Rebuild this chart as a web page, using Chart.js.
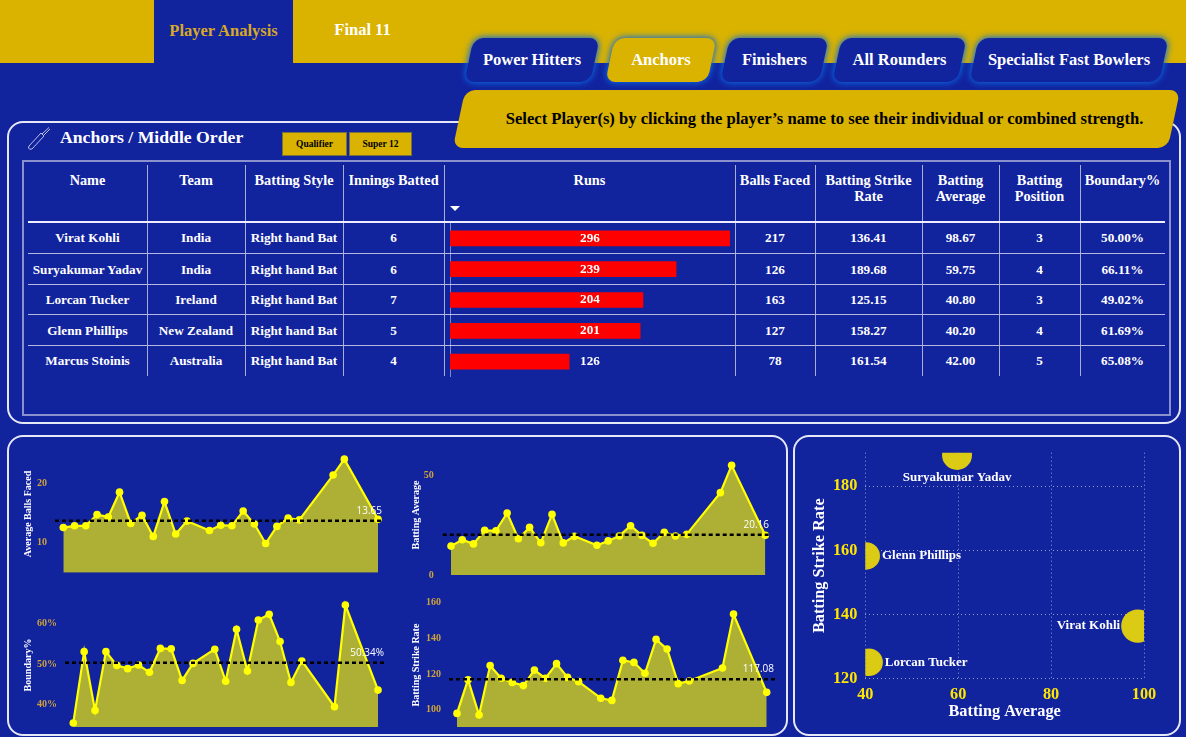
<!DOCTYPE html>
<html>
<head>
<meta charset="utf-8">
<title>Player Analysis</title>
<script src="https://cdn.jsdelivr.net/npm/chart.js@4"></script>
<style>
  html, body { margin: 0; padding: 0; }
  body { width: 1186px; height: 737px; position: relative; overflow: hidden; background: #12239e;
    font-family: "Liberation Serif", serif; font-weight: bold; color: #fff; }
  .abs { position: absolute; }
  .c { position: absolute; display: flex; align-items: center; justify-content: center; text-align: center; }
  .top-band { left: 0; top: 0; width: 1186px; height: 63px; background: #d9b300; }
  .page-tab { top: 0; height: 63px; font-size: 16.5px; box-sizing: border-box; padding-bottom: 2px; }
  .tab { top: 38px; height: 44px; font-size: 16.5px; z-index: 3; }
  .tab::before { content: ""; position: absolute; inset: 0; z-index: -1; background: #12239e; border-radius: 10px;
    transform: skewX(-12deg); box-shadow: 0 0 6px 1px #0a6be0; }
  .tab.on::before { background: #d9b300; }
  .banner { left: 459px; top: 90px; width: 715px; height: 58px; z-index: 2; color: #000; font-size: 16.6px; }
  .banner::before { content: ""; position: absolute; inset: 0; z-index: -1; background: #d9b300; border-radius: 10px; transform: skewX(-12deg); }
  .panel { border: 2px solid #e6e8f8; border-radius: 16px; box-sizing: border-box; }
  .filter { top: 132px; height: 24px; background: #d9b300; border: 1px solid #77703f; box-sizing: border-box; color: #000; font-size: 9.5px; }
  .vline { top: 165px; height: 211px; width: 1px; background: #a9add9; }
  .hline { left: 28px; width: 1137px; height: 1px; background: #b5b8e0; }
  .th { font-size: 14.3px; line-height: 16px; top: 172px; align-items: flex-start; }
  .td { font-size: 13.2px; height: 30px; }
  canvas { position: absolute; }
</style>
</head>
<body>
<div class="abs top-band"></div>
<div class="c page-tab" style="left:154px;width:139px;background:#12239e;color:#d6a928">Player Analysis</div>
<div class="c page-tab" style="left:293px;width:139px;color:#fff;padding-bottom:4px">Final 11</div>

<div class="abs panel" style="left:7px;top:121px;width:1174px;height:303px"></div>
<div class="abs" style="left:22px;top:160px;width:1149px;height:256px;border:2px solid #8b91cf;box-sizing:border-box"></div>
<div class="abs panel" style="left:7px;top:435px;width:781px;height:301px"></div>
<div class="abs panel" style="left:793px;top:435px;width:388px;height:301px"></div>

<div class="c tab" style="left:469px;width:126px">Power Hitters</div>
<div class="c tab on" style="left:610px;width:102px">Anchors</div>
<div class="c tab" style="left:725px;width:99px">Finishers</div>
<div class="c tab" style="left:837px;width:125px">All Rounders</div>
<div class="c tab" style="left:974px;width:190px">Specialist Fast Bowlers</div>
<div class="c banner"><span style="margin-left:16px">Select Player(s) by clicking the player’s name to see their individual or combined strength.</span></div>

<svg class="abs" style="left:26px;top:126px" width="26" height="26" viewBox="0 0 26 26" fill="none" stroke="#b9bfe8" stroke-width="1">
  <path d="M3 20 L15 7 L18 10 L6 23 Q3 24 2.5 22 Z"/><path d="M16 8 L23 1.5 M18 9 L24 3"/>
</svg>
<div class="abs" style="left:60px;top:127px;font-size:17.7px;line-height:20px">Anchors / Middle Order</div>
<div class="c filter" style="left:282px;width:65px">Qualifier</div>
<div class="c filter" style="left:349px;width:63px">Super 12</div>

<div id="table"></div>
<div class="abs" style="left:450px;top:206px;width:0;height:0;border-left:5px solid transparent;border-right:5px solid transparent;border-top:5px solid #fff"></div>

<canvas id="runsChart" style="left:444px;top:223px" width="291" height="154"></canvas>
<canvas id="ballsChart" style="left:22px;top:445px" width="368" height="135"></canvas>
<canvas id="avgChart" style="left:410px;top:445px" width="368" height="135"></canvas>
<canvas id="boundaryChart" style="left:22px;top:595px" width="368" height="138"></canvas>
<canvas id="srChart" style="left:410px;top:595px" width="372" height="138"></canvas>
<canvas id="scatterChart" style="left:810px;top:436px" width="364" height="295"></canvas>

<script>
// Table data
const headers = ["Name", "Team", "Batting Style", "Innings Batted", "Runs", "Balls Faced", "Batting Strike<br>Rate", "Batting<br>Average", "Batting<br>Position", "Boundary%"];
const names = ["Virat Kohli", "Suryakumar Yadav", "Lorcan Tucker", "Glenn Phillips", "Marcus Stoinis"];
const teams = ["India", "India", "Ireland", "New Zealand", "Australia"];
const styles = ["Right hand Bat", "Right hand Bat", "Right hand Bat", "Right hand Bat", "Right hand Bat"];
const innings = [6, 6, 7, 5, 4];
const runs = [296, 239, 204, 201, 126];
const ballsFaced = [217, 126, 163, 127, 78];
const strikeRates = [136.41, 189.68, 125.15, 158.27, 161.54];
const averages = [98.67, 59.75, 40.80, 40.20, 42.00];
const positions = [3, 4, 3, 4, 5];
const boundaryPct = ["50.00%", "66.11%", "49.02%", "61.69%", "65.08%"];

// Trend data, one point per match (some matches have no value)
const matchNo = [0, 1, 2, 3, 4, 5, 6, 7, 8, 9, 10, 11, 13, 14, 15, 16, 17, 18, 19, 20, 21, 24, 25, 28];
const trendBalls = [12.5, 12.8, 12.8, 14.7, 14.3, 18.5, 13.2, 14.6, 11.0, 16.9, 11.4, 13.6, 12.0, 12.9, 12.8, 15.3, 13.1, 9.8, 12.7, 14.1, 13.8, 21.4, 24.1, 13.9];
const trendAvg = [14.5, 17.7, 15.6, 22.4, 22.2, 31.1, 18.2, 23.9, 16.2, 30.4, 16.1, 19.4, 14.9, 17.1, 19.6, 24.7, 19.9, 15.9, 21.4, 19.6, 20.4, 41.3, 55.0, 19.9];
const trendBoundary = [35.5, 53.1, 38.6, 53.1, 49.7, 48.9, 49.8, 48.0, 53.9, 53.8, 46.0, 50.2, 53.7, 45.8, 58.6, 48.3, 60.9, 62.3, 55.6, 45.5, 50.8, 39.5, 64.6, 43.6];
const trendSR = [97.9, 116.8, 97.0, 124.7, 117.6, 115.3, 113.5, 122.2, 117.6, 125.8, 118.1, 115.7, 106.4, 105.2, 127.7, 126.5, 120.4, 139.4, 134.0, 114.6, 116.1, 123.4, 153.6, 109.7];
const meanBalls = 13.65;
const meanAvg = 20.16;
const meanBoundary = 50.34;
const meanSR = 117.08;

const ticksBalls = [10, 20];
const ticksAvg = [0, 50];
const ticksBoundary = [40, 50, 60];
const ticksSR = [100, 120, 140, 160];
const ticksScatterX = [40, 60, 80, 100];
const ticksScatterY = [120, 140, 160, 180];

const SERIF = "'Liberation Serif', serif";

// ===== Table text =====
const colEdges = [28, 147, 245, 343, 444, 735, 815, 922, 999, 1080, 1165];
const rowCenters = [238, 269.5, 300, 330.5, 361];
const rowLines = [253, 284, 314, 345];
const rowCols = [names, teams, styles, innings, null, ballsFaced, strikeRates.map(v => v.toFixed(2)), averages.map(v => v.toFixed(2)), positions, boundaryPct];

let tableHtml = "";
headers.forEach((h, i) => {
  tableHtml += `<div class="c th" style="left:${colEdges[i]}px;width:${colEdges[i + 1] - colEdges[i]}px">${h}</div>`;
});
colEdges.slice(1, -1).forEach(x => { tableHtml += `<div class="abs vline" style="left:${x}px"></div>`; });
tableHtml += `<div class="abs hline" style="top:221px;height:2px;background:#eef"></div>`;
rowLines.forEach(y => { tableHtml += `<div class="abs hline" style="top:${y}px"></div>`; });
rowCols.forEach((col, i) => {
  if (!col) return;
  col.forEach((v, r) => {
    tableHtml += `<div class="c td" style="left:${colEdges[i]}px;width:${colEdges[i + 1] - colEdges[i]}px;top:${rowCenters[r] - 15}px">${v}</div>`;
  });
});
document.getElementById("table").innerHTML = tableHtml;

Chart.defaults.animation = false;
Chart.defaults.responsive = false;
Chart.defaults.plugins.legend.display = false;
Chart.defaults.plugins.tooltip.enabled = false;

// tick labels should not push the plot area in
const noTickMargins = s => { s.paddingTop = s.paddingBottom = s.paddingLeft = s.paddingRight = 0; };

// ===== Runs bars =====
const runsLabels = {
  id: "runsLabels",
  afterDatasetsDraw(chart) {
    const { ctx, chartArea, scales } = chart;
    ctx.save();
    ctx.font = "bold 13.2px " + SERIF;
    ctx.fillStyle = "#fff";
    ctx.textAlign = "center";
    ctx.textBaseline = "middle";
    runs.forEach((v, i) => ctx.fillText(v, (chartArea.left + chartArea.right) / 2, scales.y.getPixelForValue(i)));
    ctx.restore();
  },
};

new Chart(document.getElementById("runsChart"), {
  type: "bar",
  data: { labels: names, datasets: [{ data: runs, backgroundColor: "#ff0000", barThickness: 15 }] },
  options: {
    indexAxis: "y",
    layout: { padding: { left: 6, right: 5, top: 0, bottom: 0 } },
    scales: {
      x: { display: false, min: 0, max: 296 },
      y: {
        ticks: { display: false },
        grid: { display: false },
        border: { display: true, color: "rgba(255,255,255,0.45)", dash: [2, 2] },
        afterFit: s => { s.width = 0; },
      },
    },
  },
  plugins: [runsLabels],
});

// ===== Trend area charts =====
const meanLabel = {
  id: "meanLabel",
  afterDatasetsDraw(chart, args, opts) {
    const { ctx, chartArea, scales } = chart;
    ctx.save();
    ctx.font = "10px 'Open Sans', sans-serif";
    ctx.fillStyle = "#fff";
    ctx.textAlign = "right";
    ctx.textBaseline = "middle";
    ctx.fillText(opts.text, chartArea.right - 1, scales.y.getPixelForValue(opts.value) - 10);
    ctx.restore();
  },
};

function trendChart(id, title, values, mean, meanText, tickList, box) {
  new Chart(document.getElementById(id), {
    type: "line",
    data: {
      datasets: [
        {
          data: [{ x: box.xMin, y: mean }, { x: box.xMax, y: mean }],
          borderColor: "#000", borderWidth: 2.5, borderDash: [4, 3], pointRadius: 0, order: 0, clip: false,
        },
        {
          data: matchNo.map((m, i) => ({ x: m, y: values[i] })),
          borderColor: "#ffff00", borderWidth: 2.2, backgroundColor: "#aeb036", fill: "start",
          pointRadius: 3.8, pointBackgroundColor: "#ffff00", pointBorderWidth: 0, tension: 0, order: 1, clip: false,
        },
      ],
    },
    options: {
      layout: { padding: { left: 0, right: box.right, top: box.top, bottom: box.bottom } },
      plugins: { meanLabel: { text: meanText, value: mean } },
      scales: {
        x: { type: "linear", display: false, min: box.xMin, max: box.xMax },
        y: {
          min: box.yMin,
          max: box.yMax,
          grid: { display: false, drawTicks: false },
          border: { display: false },
          title: { display: true, text: title, color: "#fff", font: { family: SERIF, weight: "bold", size: 10 }, padding: { top: 0, bottom: 0 } },
          ticks: {
            color: "#cda33c",
            font: { family: SERIF, weight: "bold", size: 10 },
            padding: box.tickPad,
            callback: box.tickFmt || (v => v),
          },
          afterBuildTicks: s => { s.ticks = tickList.map(v => ({ value: v })); },
          afterFit: s => { s.width = box.axisWidth; noTickMargins(s); },
        },
      },
    },
    plugins: [meanLabel],
  });
}

trendChart("ballsChart", "Average Balls Faced", trendBalls, meanBalls, "13.65", ticksBalls,
  { xMin: -0.74, xMax: 28.44, yMin: 4.85, yMax: 24.75, axisWidth: 33, right: 7, top: 10.3, bottom: 7.3, tickPad: 8 });
trendChart("avgChart", "Batting Average", trendAvg, meanAvg, "20.16", ticksAvg,
  { xMin: -0.74, xMax: 28.42, yMin: 0, yMax: 60.2, axisWidth: 32.7, right: 8, top: 10, bottom: 5, tickPad: 9 });
trendChart("boundaryChart", "Boundary%", trendBoundary, meanBoundary, "50.34%", ticksBoundary,
  { xMin: -0.76, xMax: 28.64, yMin: 34.5, yMax: 65.1, axisWidth: 43, right: 5, top: 8, bottom: 6, tickPad: 8, tickFmt: v => v + "%" });
trendChart("srChart", "Batting Strike Rate", trendSR, meanSR, "117.08", ticksSR,
  { xMin: -0.72, xMax: 28.75, yMin: 90.1, yMax: 160, axisWidth: 39, right: 7, top: 7.7, bottom: 5.7, tickPad: 8 });

// ===== Batting Average vs Strike Rate =====
const scatterCount = 4; // only the first four players show on the plot
const labelSides = ["left", "below", "right", "right"];

const bubbleLabels = {
  id: "bubbleLabels",
  afterDatasetsDraw(chart) {
    const { ctx, scales } = chart;
    const points = chart.getDatasetMeta(0).data;
    ctx.save();
    ctx.font = "bold 13px " + SERIF;
    ctx.fillStyle = "#fff";
    ctx.textBaseline = "middle";
    points.forEach((pt, i) => {
      const r = pt.options.radius;
      const x = scales.x.getPixelForValue(averages[i]);
      const y = scales.y.getPixelForValue(strikeRates[i]);
      if (labelSides[i] === "below") {
        ctx.textAlign = "center";
        ctx.fillText(names[i], x, y + r + 8);
      } else if (labelSides[i] === "left") {
        ctx.textAlign = "right";
        ctx.fillText(names[i], x - r - 1, y);
      } else {
        ctx.textAlign = "left";
        ctx.fillText(names[i], x + r + 2, y);
      }
    });
    ctx.restore();
  },
};

const gridStyle = { color: "rgba(255,255,255,0.55)", drawTicks: false };
const scatterTicks = { color: "#ffe600", font: { family: SERIF, weight: "bold", size: 16.3 } };
const scatterTitle = text => ({ display: true, text, color: "#fff", font: { family: SERIF, weight: "bold", size: 16.3 }, padding: 0 });

new Chart(document.getElementById("scatterChart"), {
  type: "bubble",
  data: {
    datasets: [{
      data: averages.slice(0, scatterCount).map((a, i) => ({ x: a, y: strikeRates[i], r: 0.97 * Math.sqrt(runs[i]) })),
      backgroundColor: "#dccb14",
      borderWidth: 0,
    }],
  },
  options: {
    // the bubble radius already reserves the top margin, so the canvas starts higher up
    layout: { padding: { left: 0, right: 30, top: 0, bottom: 9.5 } },
    scales: {
      x: {
        type: "linear", min: 40, max: 100,
        grid: gridStyle,
        border: { display: false, dash: [1, 3] },
        ticks: { ...scatterTicks, padding: 6 },
        title: scatterTitle("Batting Average"),
        afterBuildTicks: s => { s.ticks = ticksScatterX.map(v => ({ value: v })); },
        afterFit: s => { s.height = 42.7; noTickMargins(s); },
      },
      y: {
        type: "linear", min: 120, max: 190.4,
        grid: gridStyle,
        border: { display: false, dash: [1, 3] },
        ticks: { ...scatterTicks, padding: 8 },
        title: scatterTitle("Batting Strike Rate"),
        afterBuildTicks: s => { s.ticks = ticksScatterY.map(v => ({ value: v })); },
        afterFit: s => { s.width = 55.3; noTickMargins(s); },
      },
    },
  },
  plugins: [bubbleLabels],
});
</script>
</body>
</html>
